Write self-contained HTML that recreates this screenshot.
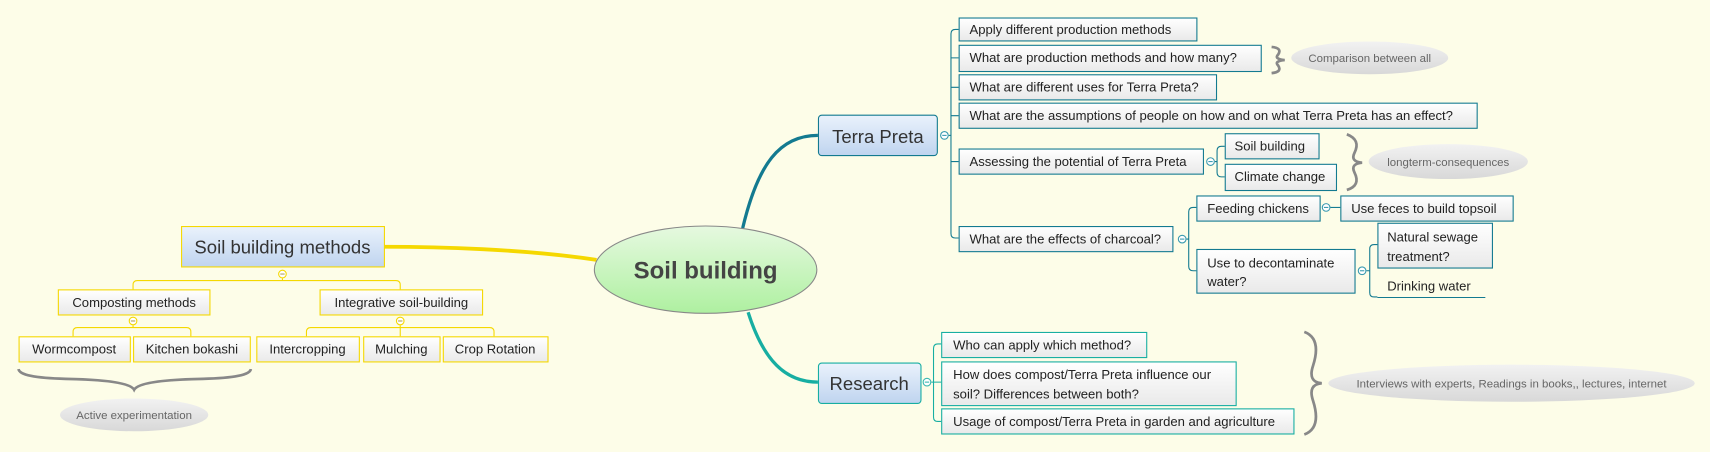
<!DOCTYPE html>
<html><head><meta charset="utf-8"><style>
html,body{margin:0;padding:0;background:#fdfde8;}
svg{display:block}
text{font-family:"Liberation Sans",sans-serif;}
</style></head><body>
<svg width="1710" height="452" viewBox="0 0 1568 414" preserveAspectRatio="none" xmlns="http://www.w3.org/2000/svg">
<defs>
<linearGradient id="leaf" x1="0" y1="0" x2="0" y2="1"><stop offset="0" stop-color="#ffffff"/><stop offset="1" stop-color="#e9e9e9"/></linearGradient>
<linearGradient id="main" x1="0" y1="0" x2="0" y2="1"><stop offset="0" stop-color="#eaf2fc"/><stop offset="1" stop-color="#bfd4ef"/></linearGradient>
<linearGradient id="cen" x1="0" y1="0" x2="0" y2="1"><stop offset="0" stop-color="#e6f9e0"/><stop offset="1" stop-color="#aef0a0"/></linearGradient>
<linearGradient id="note" x1="0" y1="0" x2="0" y2="1"><stop offset="0" stop-color="#f2f2f2"/><stop offset="1" stop-color="#d8d8d8"/></linearGradient>
</defs>
<rect width="1568" height="414" fill="#fdfde8"/>

<!-- main connectors -->
<path d="M547,238 C480,228 400,226 352,226" stroke="#f5d800" stroke-width="3.5" fill="none"/>
<path d="M681,209 C695,150 715,124 750,124" stroke="#137a90" stroke-width="3" fill="none"/>
<path d="M686,286 C700,330 720,350 750,350" stroke="#17aea2" stroke-width="3" fill="none"/>

<!-- central -->
<ellipse cx="647" cy="247" rx="102" ry="40" fill="url(#cen)" stroke="#888" stroke-width="1"/>
<text x="647" y="255" font-size="22" font-weight="bold" fill="#444" text-anchor="middle">Soil building</text>

<!-- Terra Preta -->
<rect x="750.5" y="105.5" width="109" height="37" rx="3" fill="url(#main)" stroke="#137a90"/>
<text x="805" y="131" font-size="17" fill="#333" text-anchor="middle">Terra Preta</text>
<circle cx="866" cy="124" r="3.5" fill="#fff" stroke="#3a9ab0"/><line x1="864" y1="124" x2="868" y2="124" stroke="#3a9ab0"/>
<g stroke="#137a90" fill="none" stroke-width="1">
<path d="M870,124 H872"/>
<path d="M879,27 H876 Q872,27 872,31 V214 Q872,218 876,218 H879"/>
<path d="M872,53 H879 M872,80 H879 M872,106 H879 M872,148 H879"/>
<!-- assessing -->
<path d="M1114,148 H1116 M1123,134 H1120 Q1116,134 1116,138 V158 Q1116,162 1120,162 H1123"/>
<!-- charcoal -->
<path d="M1088,219 H1090 M1097,190 H1094 Q1090,190 1090,194 V244 Q1090,248 1094,248 H1097"/>
<path d="M1220,190 H1229"/>
<path d="M1253,248 H1256 M1263,224 H1260 Q1256,224 1256,228 V268 Q1256,272 1260,272 H1263"/>
</g>
<g stroke="#137a90" fill="url(#leaf)">
<rect x="879.5" y="16.5" width="218" height="21"/>
<rect x="879.5" y="41.5" width="277" height="24"/>
<rect x="879.5" y="68.5" width="236" height="23"/>
<rect x="879.5" y="94.5" width="475" height="23"/>
<rect x="879.5" y="136.5" width="224" height="23"/>
<rect x="1123.5" y="122.5" width="86" height="23"/>
<rect x="1123.5" y="150.5" width="102" height="24"/>
<rect x="879.5" y="207.5" width="196" height="23"/>
<rect x="1097.5" y="179.5" width="113" height="23"/>
<rect x="1229.5" y="179.5" width="158" height="23"/>
<rect x="1097.5" y="228.5" width="145" height="40"/>
<rect x="1263.5" y="204.5" width="105" height="41"/>
</g>
<line x1="1263" y1="272.5" x2="1362" y2="272.5" stroke="#137a90"/>
<g fill="#fff" stroke="#3a9ab0">
<circle cx="1110" cy="148" r="3.5"/><circle cx="1084" cy="219" r="3.5"/><circle cx="1216" cy="190" r="3.5"/><circle cx="1249" cy="248" r="3.5"/>
</g>
<g stroke="#3a9ab0"><line x1="1108" y1="148" x2="1112" y2="148"/><line x1="1082" y1="219" x2="1086" y2="219"/><line x1="1214" y1="190" x2="1218" y2="190"/><line x1="1247" y1="248" x2="1251" y2="248"/></g>
<g font-size="12" fill="#222">
<text x="889" y="31">Apply different production methods</text>
<text x="889" y="57">What are production methods and how many?</text>
<text x="889" y="84">What are different uses for Terra Preta?</text>
<text x="889" y="110">What are the assumptions of people on how and on what Terra Preta has an effect?</text>
<text x="889" y="152">Assessing the potential of Terra Preta</text>
<text x="1132" y="138">Soil building</text>
<text x="1132" y="166">Climate change</text>
<text x="889" y="223">What are the effects of charcoal?</text>
<text x="1107" y="195">Feeding chickens</text>
<text x="1239" y="195">Use feces to build topsoil</text>
<text x="1107" y="245">Use to decontaminate</text>
<text x="1107" y="262">water?</text>
<text x="1272" y="221">Natural sewage</text>
<text x="1272" y="239">treatment?</text>
<text x="1272" y="266">Drinking water</text>
</g>

<!-- Research -->
<rect x="750.5" y="332.5" width="94" height="37" rx="3" fill="url(#main)" stroke="#17aea2"/>
<text x="797" y="357" font-size="17" fill="#333" text-anchor="middle">Research</text>
<circle cx="850" cy="350" r="3.5" fill="#fff" stroke="#3ab8b0"/><line x1="848" y1="350" x2="852" y2="350" stroke="#3ab8b0"/>
<g stroke="#17aea2" fill="none">
<path d="M854,350 H863 M863,315 H860 Q856,315 856,319 V382 Q856,386 860,386 H863"/>
</g>
<g stroke="#17aea2" fill="url(#leaf)">
<rect x="863.5" y="304.5" width="188" height="23"/>
<rect x="863.5" y="331.5" width="270" height="40"/>
<rect x="863.5" y="374.5" width="323" height="23"/>
</g>
<g font-size="12" fill="#222">
<text x="874" y="320">Who can apply which method?</text>
<text x="874" y="347">How does compost/Terra Preta influence our</text>
<text x="874" y="365">soil? Differences between both?</text>
<text x="874" y="390">Usage of compost/Terra Preta in garden and agriculture</text>
</g>

<!-- notes / braces -->
<g stroke="#888" stroke-width="2.5" fill="none">
<path d="M1166,43 Q1176,44 1172,50 Q1168,54 1178,55 Q1168,56 1172,60 Q1176,66 1166,67"/>
<path d="M1235,123 Q1248,128 1242,140 Q1238,148 1249,149 Q1238,150 1242,158 Q1248,170 1235,174"/>
<path d="M1196,304 Q1212,310 1204,335 Q1199,350 1212,351 Q1199,352 1204,367 Q1212,392 1196,398"/>
<path d="M17,338 Q18,346 60,347 Q118,348 123,357 Q128,348 186,347 Q229,346 230,338"/>
</g>
<ellipse cx="1256" cy="53" rx="72" ry="15" fill="url(#note)"/>
<text x="1256" y="57" font-size="10.5" fill="#666" text-anchor="middle">Comparison between all</text>
<ellipse cx="1328" cy="148" rx="73" ry="16" fill="url(#note)"/>
<text x="1328" y="152" font-size="10.5" fill="#666" text-anchor="middle">longterm-consequences</text>
<ellipse cx="1386" cy="351" rx="168" ry="17" fill="url(#note)"/>
<text x="1386" y="355" font-size="10.5" fill="#666" text-anchor="middle">Interviews with experts, Readings in books,, lectures, internet</text>
<ellipse cx="123" cy="380" rx="68" ry="15" fill="url(#note)"/>
<text x="123" y="384" font-size="10.5" fill="#666" text-anchor="middle">Active experimentation</text>

<!-- left side -->
<rect x="166.5" y="207.5" width="186" height="37" fill="url(#main)" stroke="#f5d800"/>
<text x="259" y="232" font-size="17" fill="#333" text-anchor="middle">Soil building methods</text>
<g stroke="#f5d800" fill="none">
<path d="M259,255 V257 M122,265 V261 Q122,257 126,257 H363 Q367,257 367,261 V265"/>
<path d="M122,298 V300 M67,308 V304 Q67,300 71,300 H171 Q175,300 175,304 V308"/>
<path d="M367,298 V308 M281,308 V304 Q281,300 285,300 H449 Q453,300 453,304 V308"/>
</g>
<g stroke="#f5d800" fill="url(#leaf)">
<rect x="53.5" y="265.5" width="139" height="23"/>
<rect x="293.5" y="265.5" width="149" height="23"/>
<rect x="17.5" y="308.5" width="102" height="23"/>
<rect x="122.5" y="308.5" width="107" height="23"/>
<rect x="235.5" y="308.5" width="94" height="23"/>
<rect x="333.5" y="308.5" width="70" height="23"/>
<rect x="406.5" y="308.5" width="96" height="23"/>
</g>
<g fill="#fff" stroke="#f5d800"><circle cx="259" cy="251" r="3.5"/><circle cx="122" cy="294" r="3.5"/><circle cx="367" cy="294" r="3.5"/></g>
<g stroke="#b0a060"><line x1="257" y1="251" x2="261" y2="251"/><line x1="120" y1="294" x2="124" y2="294"/><line x1="365" y1="294" x2="369" y2="294"/></g>
<g font-size="12" fill="#222" text-anchor="middle">
<text x="123" y="281">Composting methods</text>
<text x="368" y="281">Integrative soil-building</text>
<text x="68" y="324">Wormcompost</text>
<text x="176" y="324">Kitchen bokashi</text>
<text x="282" y="324">Intercropping</text>
<text x="368" y="324">Mulching</text>
<text x="454" y="324">Crop Rotation</text>
</g>
</svg>
</body></html>
